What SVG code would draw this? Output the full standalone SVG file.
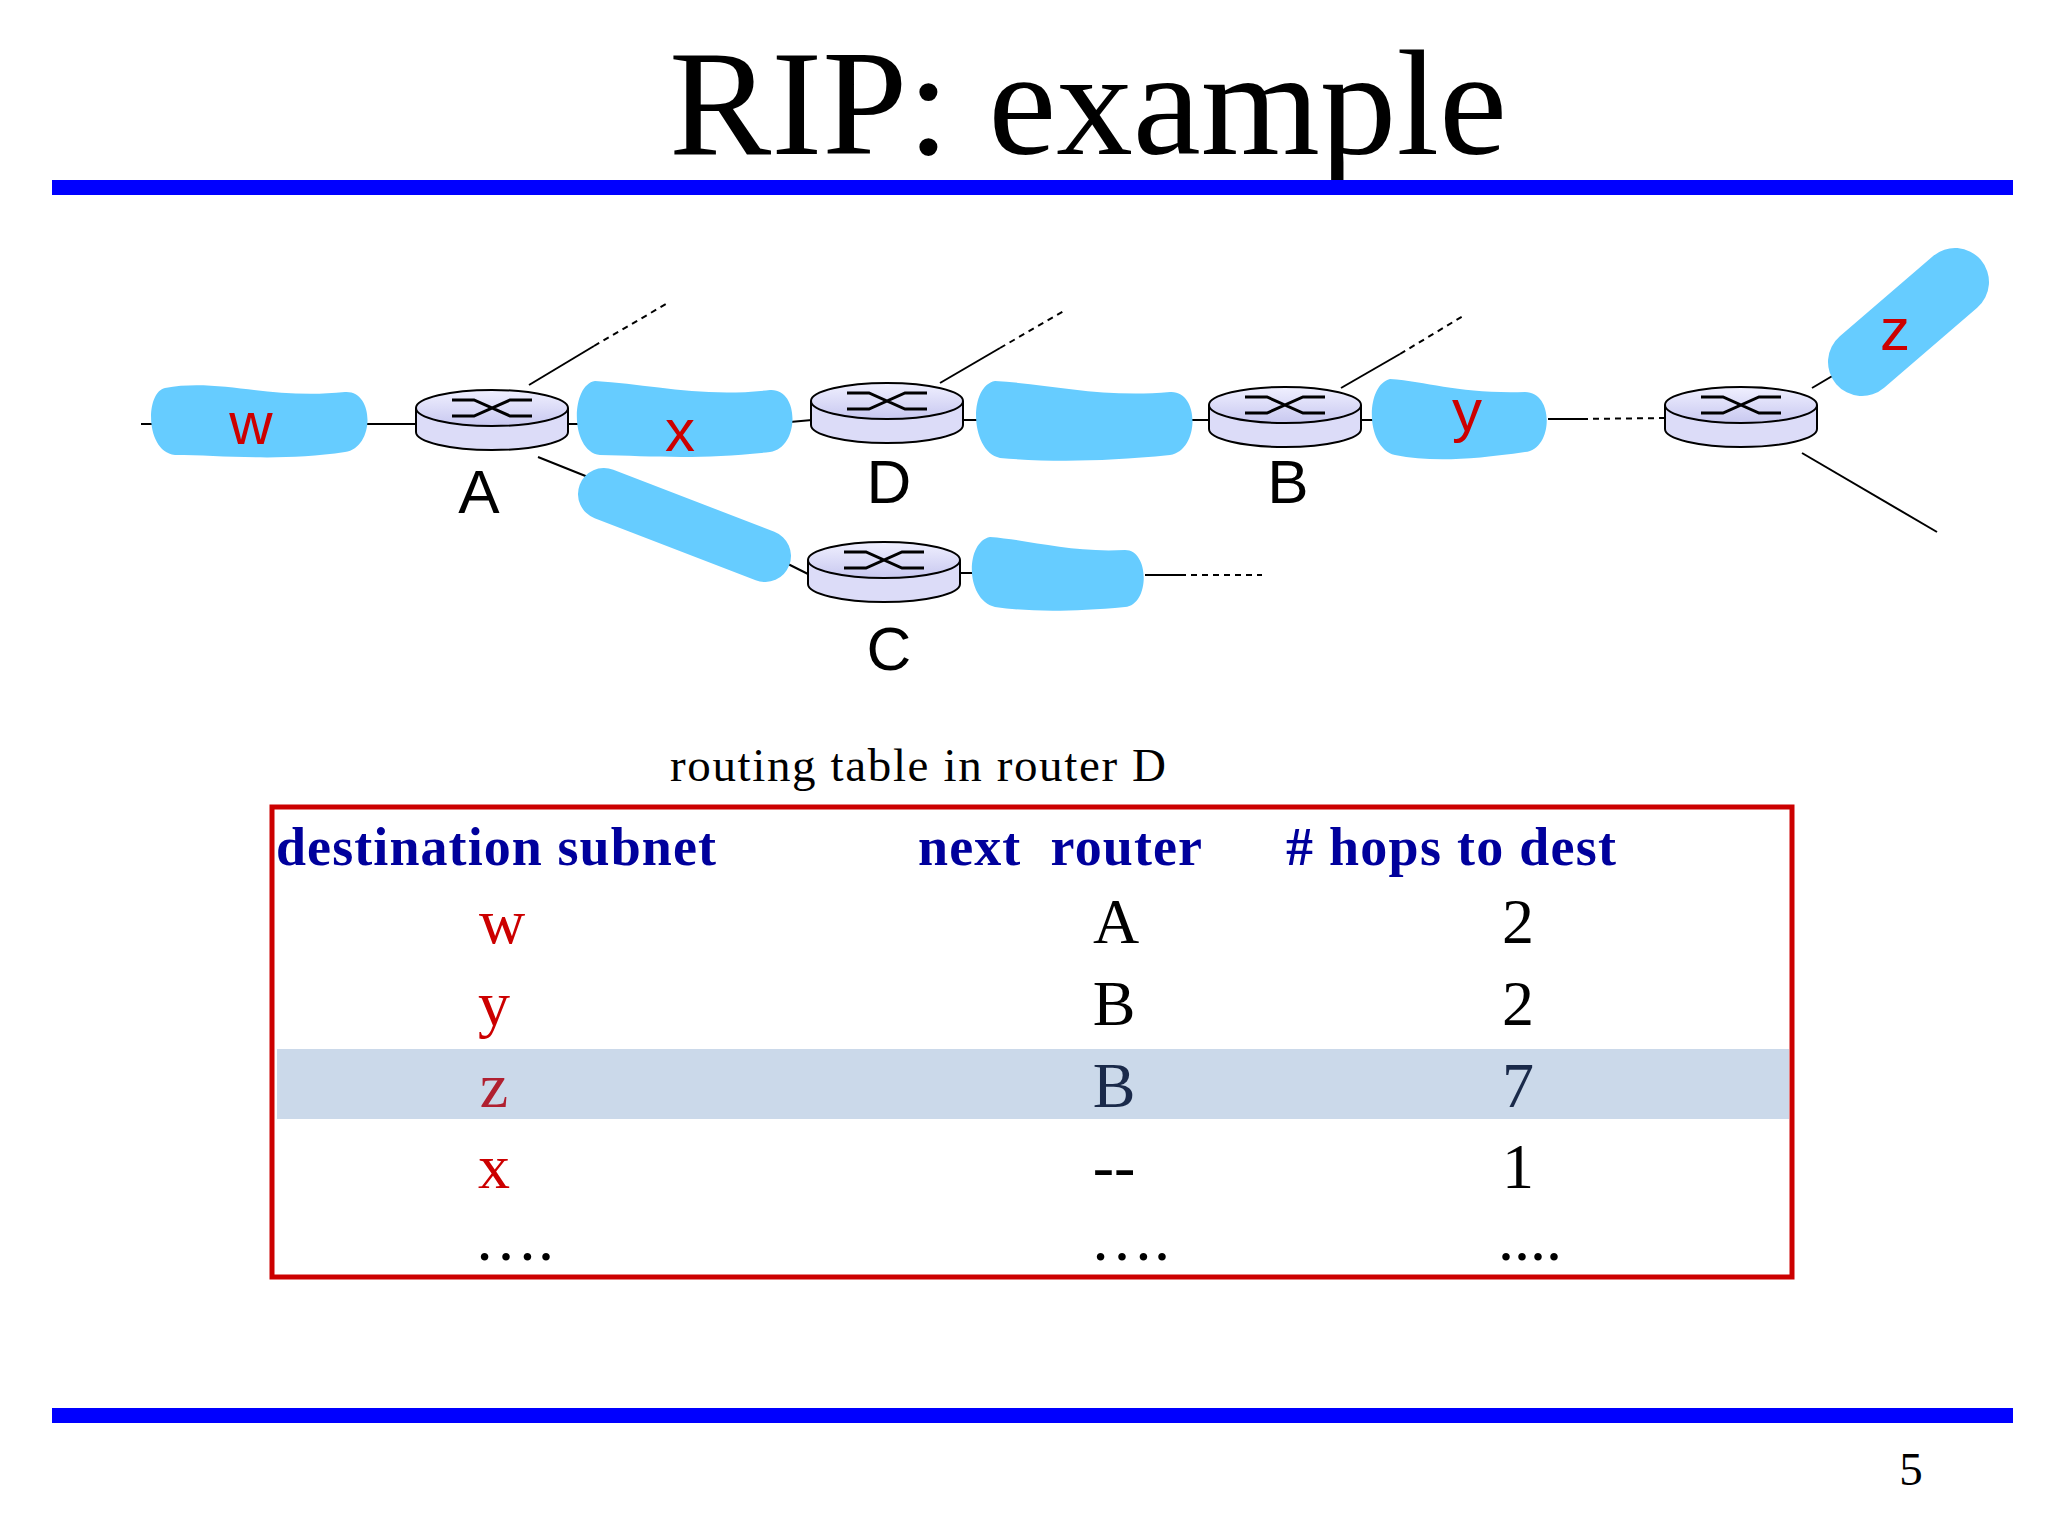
<svg xmlns="http://www.w3.org/2000/svg" width="2048" height="1536" viewBox="0 0 2048 1536">
<style>
.cl{fill:#66ccff}
.ln{stroke:#000;stroke-width:2;fill:none}
.ds{stroke:#000;stroke-width:2;fill:none;stroke-dasharray:6,5}
.lab{font-family:"Liberation Sans",Arial,sans-serif;font-size:62px;fill:#000;text-anchor:middle}
.net{font-family:"Liberation Sans",Arial,sans-serif;font-size:60px;fill:#cc0000;text-anchor:middle}
.hd{font-family:"Liberation Serif","Times New Roman",serif;font-size:54px;font-weight:bold;fill:#00009c}
.cell{font-family:"Liberation Serif","Times New Roman",serif;font-size:64px;fill:#000;text-anchor:middle}
.red{fill:#cc0000}
.zr{fill:#b02030}
.dk{fill:#1a2a4a}
</style>
<defs>
<linearGradient id="rg" x1="0" y1="0" x2="0" y2="1"><stop offset="0" stop-color="#f0f0ff"/><stop offset="1" stop-color="#c8c8f0"/></linearGradient>
<g id="router">
<path d="M-76,0 v24 a76,18 0 0 0 152,0 v-24" fill="#dcdcf8" stroke="#000" stroke-width="2"/>
<ellipse cx="0" cy="0" rx="76" ry="18" fill="url(#rg)" stroke="#000" stroke-width="2"/>
<path d="M-40,-8 h22 l36,16 h22 M-40,8 h22 l36,-16 h22" fill="none" stroke="#000" stroke-width="3"/>
</g>
</defs>
<rect width="2048" height="1536" fill="#fff"/>
<text x="1088" y="154" font-family="Liberation Serif,'Times New Roman',serif" font-size="150" text-anchor="middle" textLength="838" lengthAdjust="spacingAndGlyphs">RIP: example</text>
<rect x="52" y="180" width="1961" height="15" fill="#0000ff"/>
<rect x="52" y="1408" width="1961" height="15" fill="#0000ff"/>
<text x="1911" y="1485" font-family="Liberation Serif,serif" font-size="47" text-anchor="middle">5</text>
<g id="connectors">
<line class="ln" x1="141" y1="424" x2="160" y2="424"/>
<line class="ln" x1="365" y1="424" x2="420" y2="424"/>
<line class="ln" x1="566" y1="424" x2="585" y2="424"/>
<line class="ln" x1="790" y1="422" x2="812" y2="420"/>
<line class="ln" x1="962" y1="420" x2="985" y2="420"/>
<line class="ln" x1="1190" y1="420" x2="1210" y2="420"/>
<line class="ln" x1="1360" y1="420" x2="1380" y2="420"/>
<line class="ln" x1="529" y1="385" x2="594" y2="346"/><line class="ds" x1="594" y1="346" x2="666" y2="304"/>
<line class="ln" x1="940" y1="383" x2="1000" y2="348"/><line class="ds" x1="1000" y1="348" x2="1064" y2="311"/>
<line class="ln" x1="1341" y1="388" x2="1400" y2="354"/><line class="ds" x1="1400" y1="354" x2="1463" y2="316"/>
<line class="ln" x1="538" y1="457" x2="588" y2="477"/>
<line class="ln" x1="784" y1="562" x2="810" y2="575"/>
<line class="ln" x1="955" y1="573" x2="975" y2="573"/>
<line class="ln" x1="1145" y1="575" x2="1180" y2="575"/><line class="ds" x1="1180" y1="575" x2="1262" y2="575"/>
<line class="ln" x1="1548" y1="419" x2="1582" y2="419"/><line class="ds" x1="1582" y1="419" x2="1668" y2="418"/>
<line class="ln" x1="1812" y1="388" x2="1834" y2="375"/>
<line class="ln" x1="1802" y1="453" x2="1937" y2="532"/>
</g>
<g id="clouds">
<path class="cl" d="M165,388 C220,378 270,400 345,392 C375,390 375,448 345,452 C280,462 220,455 175,455 C145,452 145,392 165,388Z"/>
<path class="cl" d="M595,381 C650,384 700,398 770,390 C800,388 800,448 770,452 C700,460 650,456 600,455 C570,452 570,385 595,381Z"/>
<path class="cl" d="M995,381 C1050,384 1100,398 1170,392 C1200,390 1200,450 1170,455 C1100,462 1050,462 1000,458 C970,452 968,386 995,381Z"/>
<path class="cl" d="M1390,379 C1430,382 1460,394 1525,392 C1555,392 1553,450 1525,452 C1470,460 1430,462 1395,455 C1365,448 1365,385 1390,379Z"/>
<path d="M604,494 L765,556" stroke="#66ccff" stroke-width="52" stroke-linecap="round"/>
<path class="cl" d="M990,537 C1030,540 1070,553 1125,550 C1150,550 1150,605 1125,607 C1070,612 1030,612 995,607 C965,600 965,542 990,537Z"/>
<path d="M1862,362 L1955,282" stroke="#66ccff" stroke-width="68" stroke-linecap="round"/>
</g>
<g id="router-A"><use href="#router" x="492" y="408"/><text class="lab" x="479" y="513">A</text></g>
<g id="router-D"><use href="#router" x="887" y="401"/><text class="lab" x="889" y="503">D</text></g>
<g id="router-B"><use href="#router" x="1285" y="405"/><text class="lab" x="1288" y="503">B</text></g>
<g id="router-R"><use href="#router" x="1741" y="405"/></g>
<g id="router-C"><use href="#router" x="884" y="560"/><text class="lab" x="889" y="670">C</text></g>
<g id="subnet-labels">
<text class="net" x="251" y="444">w</text>
<text class="net" x="680" y="451">x</text>
<text class="net" x="1467" y="431">y</text>
<text class="net" x="1895" y="350">z</text>
</g>
<text x="670" y="781" font-family="Liberation Serif,'Times New Roman',serif" font-size="47" textLength="496">routing table in router D</text>
<g id="table">
<rect x="277" y="1049" width="1512" height="70" fill="#cbd9ea"/>
<rect x="272" y="807" width="1520" height="470" fill="none" stroke="#cc0000" stroke-width="5"/>
<text class="hd" x="276" y="865" textLength="440">destination subnet</text>
<text class="hd" x="918" y="865" textLength="284" xml:space="preserve">next  router</text>
<text class="hd" x="1286" y="865" textLength="330"># hops to dest</text>
<text class="cell red" x="502" y="943">w</text><text class="cell" x="1116" y="943">A</text><text class="cell" x="1518" y="943">2</text>
<text class="cell red" x="494" y="1025">y</text><text class="cell" x="1114" y="1025">B</text><text class="cell" x="1518" y="1025">2</text>
<text class="cell zr" x="494" y="1107">z</text><text class="cell dk" x="1114" y="1107">B</text><text class="cell dk" x="1518" y="1107">7</text>
<text class="cell red" x="494" y="1188">x</text><text class="cell" x="1114" y="1188">--</text><text class="cell" x="1518" y="1188">1</text>
<text class="cell" x="514" y="1260">….</text><text class="cell" x="1130" y="1260">….</text><text class="cell" x="1530" y="1260">....</text>
</g>
</svg>
